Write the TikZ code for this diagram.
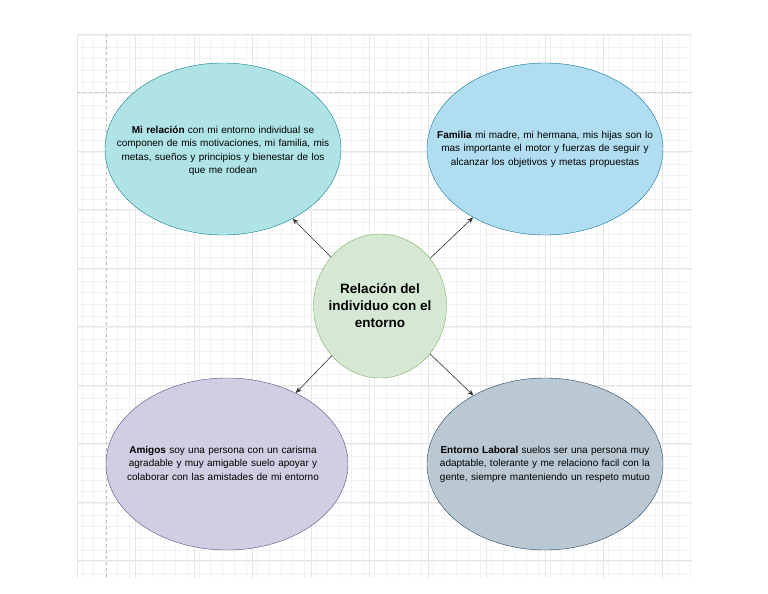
\documentclass[tikz,border=0pt]{standalone}
\usepackage{fontspec}
\setmainfont{Liberation Sans}
\usetikzlibrary{shapes.geometric,arrows.meta}
\definecolor{cA}{HTML}{B0E3E6}\definecolor{bA}{HTML}{0E8088}
\definecolor{cB}{HTML}{B1DDF0}\definecolor{bB}{HTML}{10739E}
\definecolor{cC}{HTML}{D5E8D4}\definecolor{bC}{HTML}{82B366}
\definecolor{cD}{HTML}{D0CEE2}\definecolor{bD}{HTML}{56517E}
\definecolor{cE}{HTML}{BAC8D3}\definecolor{bE}{HTML}{23445D}
\tikzset{
 bubble/.style={ellipse,draw,minimum width=236pt,minimum height=172pt,inner sep=0pt},
 txt/.style={align=center,inner sep=0pt,font=\fontsize{10}{13.5}\selectfont},
 conn/.style={draw=black!80,-{Stealth[length=6pt,width=5pt]},line width=0.6pt}
}
\begin{document}
\begin{tikzpicture}[x=1pt,y=-1pt]
\useasboundingbox (0,0) rectangle (768,594);
\fill[white] (0,0) rectangle (768,594);
\draw[black!5,line width=0.4pt,step=11.7pt] (77,34) grid (692,578);
\foreach \x in {77,135.5,...,692} \draw[black!10,line width=0.5pt] (\x,34) -- (\x,578);
\foreach \y in {34,92.5,...,578} \draw[black!10,line width=0.5pt] (77,\y) -- (692,\y);
\draw[black!25,dashed,line width=0.5pt] (106,34) -- (106,578);
\draw[black!20,dashed,line width=0.5pt] (77,92) -- (692,92);
\node[bubble,fill=cA,draw=bA] (a) at (223,149) {};
\node[txt,text width=232pt] (ta) at (223,151) {\textbf{Mi relación} con mi entorno individual se\\componen de mis motivaciones, mi familia, mis\\metas, sueños y principios y bienestar de los\\que me rodean};
\node[bubble,fill=cB,draw=bB] (b) at (545,149) {};
\node[txt,text width=232pt] (tb) at (545,149) {\textbf{Familia} mi madre, mi hermana, mis hijas son lo\\mas importante el motor y fuerzas de seguir y\\alcanzar los objetivos y metas propuestas};
\node[ellipse,draw=bC,fill=cC,minimum width=133pt,minimum height=144pt,inner sep=0pt] (c) at (380,306) {};
\node[align=center,inner sep=0pt,font=\fontsize{13.5}{17}\selectfont\bfseries] (tc) at (380,306) {Relación del\\individuo con el\\entorno};
\node[bubble,fill=cD,draw=bD,minimum width=242pt] (d) at (227,464) {};
\node[txt,text width=240pt] (td) at (223,463) {\textbf{Amigos} soy una persona con un carisma\\agradable y muy amigable suelo apoyar y\\colaborar con las amistades de mi entorno};
\node[bubble,fill=cE,draw=bE] (e) at (545,464) {};
\node[txt,text width=240pt] (te) at (545,464) {\textbf{Entorno Laboral} suelos ser una persona muy\\adaptable, tolerante y me relaciono facil con la\\gente, siempre manteniendo un respeto mutuo};
\draw[conn] (c) -- (a);
\draw[conn] (c) -- (b);
\draw[conn] (c) -- (d);
\draw[conn] (c) -- (e);
\end{tikzpicture}
\end{document}
